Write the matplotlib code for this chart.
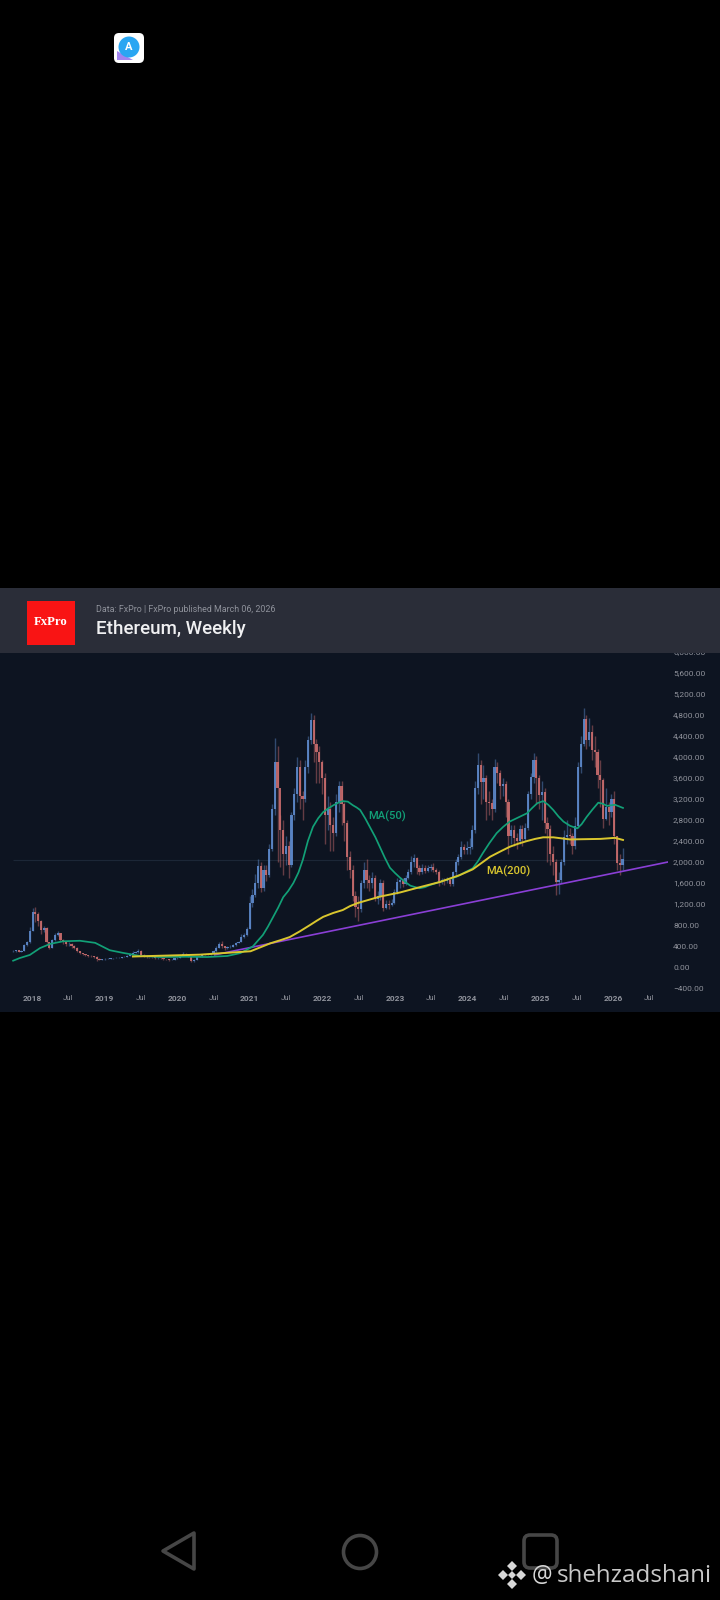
import matplotlib
matplotlib.use("Agg")
import matplotlib.pyplot as plt
from matplotlib.patches import Rectangle, FancyBboxPatch, Circle, Polygon
import numpy as np

# Fortnightly candles, first one at 2017.74. Open is the previous close.
closes = [
    300, 315, 295, 305, 410, 470, 690, 1040, 1010, 870,
    700, 740, 470, 370, 510, 610, 640, 510, 470, 430,
    430, 400, 370, 300, 260, 240, 225, 215, 205, 195,
    160, 140, 150, 155, 160, 165, 170, 175, 180, 190,
    195, 210, 240, 270, 280, 310, 230, 210, 195, 190,
    185, 175, 175, 165, 155, 150, 135, 140, 165, 180,
    215, 255, 240, 200, 110, 135, 190, 205, 225, 240,
    235, 245, 300, 370, 430, 400, 370, 380, 390, 410,
    450, 480, 570, 610, 720, 1220, 1380, 1600, 1920, 1500,
    1850, 1750, 2250, 3000, 3900, 3400, 2600, 2150, 2300, 1950,
    2900, 3300, 3800, 3250, 3200, 3800, 4320, 4700, 4250, 4100,
    3900, 3600, 2900, 3000, 2700, 2550, 3150, 3450, 3100, 2750,
    2100, 1850, 1350, 1150, 1100, 1600, 1850, 1650, 1600, 1700,
    1300, 1350, 1600, 1120, 1200, 1180, 1220, 1420, 1620, 1650,
    1580, 1700, 1800, 2000, 2080, 1880, 1810, 1880, 1830, 1880,
    1900, 1850, 1810, 1620, 1650, 1640, 1660, 1580, 1800, 2000,
    2100, 2280, 2230, 2270, 2280, 2600, 3400, 3850, 3520, 3600,
    3150, 3120, 3000, 3800, 3700, 3450, 3480, 3150, 2500, 2600,
    2450, 2400, 2620, 2430, 2650, 3300, 3620, 3950, 3600, 3280,
    3330, 2750, 2620, 2150, 2000, 1620, 1650, 2000, 2480, 2510,
    2500, 2300, 2680, 3800, 4250, 4720, 4320, 4480, 4130, 4100,
    3650, 3560, 2820, 3050, 2950, 3200, 2500, 1990, 1950, 2050,
]
highs = [
    320, 330, 320, 330, 430, 500, 760, 1130, 1150, 1040,
    900, 780, 760, 480, 530, 640, 690, 650, 530, 490,
    470, 450, 410, 380, 310, 270, 250, 235, 225, 215,
    205, 165, 160, 165, 170, 175, 180, 185, 195, 200,
    205, 220, 260, 300, 310, 340, 320, 240, 220, 200,
    200, 195, 190, 185, 170, 160, 155, 150, 175, 190,
    225, 285, 265, 250, 205, 150, 200, 215, 250, 250,
    250, 255, 320, 400, 480, 490, 400, 395, 420, 430,
    470, 500, 620, 640, 760, 1350, 1480, 1780, 2050, 2000,
    1950, 1950, 2350, 3100, 4360, 4200, 2900, 2800, 2500, 2400,
    2950, 3400, 4000, 3950, 3350, 3950, 4400, 4840, 4800, 4350,
    4200, 3950, 3700, 3250, 3150, 2850, 3300, 3550, 3550, 3150,
    2800, 2200, 1950, 1450, 1350, 1650, 2000, 2050, 1750, 1800,
    1750, 1450, 1680, 1650, 1280, 1280, 1300, 1480, 1700, 1720,
    1700, 1750, 1870, 2120, 2150, 2100, 1950, 1960, 1950, 1950,
    1970, 1980, 1880, 1850, 1700, 1700, 1720, 1700, 1820, 2050,
    2150, 2400, 2350, 2400, 2450, 2700, 3550, 4070, 3950, 3850,
    3650, 3350, 3200, 3960, 3900, 3750, 3600, 3550, 3200, 2700,
    2700, 2550, 2700, 2700, 2750, 3350, 3700, 4070, 4020, 3650,
    3550, 3400, 2850, 2700, 2300, 2050, 1800, 2050, 2600, 2800,
    2650, 2550, 2850, 3900, 4400, 4930, 4800, 4750, 4600, 4400,
    4150, 3950, 3600, 3400, 3150, 3300, 3350, 2500, 2150, 2270,
]
lows = [
    285, 290, 280, 290, 300, 400, 460, 680, 860, 780,
    620, 660, 450, 350, 360, 500, 590, 490, 440, 400,
    400, 370, 340, 280, 240, 220, 205, 195, 185, 180,
    120, 125, 135, 140, 145, 155, 160, 165, 170, 175,
    185, 190, 205, 235, 260, 270, 215, 190, 180, 175,
    170, 160, 160, 150, 140, 130, 120, 125, 135, 160,
    175, 210, 220, 190, 90, 100, 130, 185, 200, 225,
    220, 225, 235, 295, 360, 360, 320, 350, 365, 380,
    400, 450, 470, 560, 600, 720, 1150, 1330, 1500, 1420,
    1450, 1640, 1720, 2200, 2900, 2000, 1900, 1750, 1950, 1700,
    1900, 2800, 3150, 3000, 2800, 3150, 3700, 4250, 3900, 3500,
    3500, 3300, 2350, 2600, 2200, 2200, 2500, 2950, 2700, 2400,
    1850, 1700, 1250, 950, 880, 1050, 1500, 1500, 1450, 1500,
    1250, 1200, 1280, 1070, 1100, 1100, 1170, 1200, 1400, 1500,
    1520, 1570, 1680, 1780, 1900, 1780, 1760, 1780, 1790, 1800,
    1820, 1800, 1780, 1550, 1580, 1570, 1600, 1540, 1540, 1750,
    1950, 2050, 2150, 2150, 2150, 2250, 2550, 3300, 3100, 3200,
    2800, 2900, 2800, 2950, 3500, 3200, 3250, 2850, 2150, 2350,
    2300, 2250, 2350, 2300, 2400, 2600, 3200, 3500, 3100, 3000,
    2800, 2550, 2000, 1950, 1750, 1380, 1400, 1600, 1950, 2350,
    2350, 2150, 2250, 2650, 3700, 4200, 4150, 4200, 3950, 3800,
    3400, 3050, 2650, 2800, 2700, 2850, 2350, 1850, 1750, 1850,
]

ma50_years = [
    2017.74, 2017.83, 2017.97, 2018.11, 2018.25, 2018.43, 2018.66, 2018.87, 2019.07, 2019.25,
    2019.49, 2019.76, 2020.13, 2020.41, 2020.69, 2020.87, 2021.04, 2021.18, 2021.25, 2021.32,
    2021.39, 2021.46, 2021.53, 2021.60, 2021.67, 2021.73, 2021.80, 2021.87, 2021.94, 2022.01,
    2022.08, 2022.15, 2022.22, 2022.28, 2022.35, 2022.42, 2022.47, 2022.52, 2022.59, 2022.66,
    2022.73, 2022.79, 2022.86, 2022.93, 2023.00, 2023.07, 2023.14, 2023.21, 2023.28, 2023.34,
    2023.41, 2023.48, 2023.57, 2023.66, 2023.85, 2024.07, 2024.14, 2024.21, 2024.30, 2024.40,
    2024.49, 2024.58, 2024.70, 2024.82, 2024.89, 2024.96, 2025.04, 2025.11, 2025.18, 2025.25,
    2025.32, 2025.41, 2025.51, 2025.57, 2025.64, 2025.72, 2025.80, 2025.86, 2025.92, 2026.03,
    2026.14,
]
ma50_values = [
    120, 170, 230, 360, 440, 490, 500, 460, 320, 270,
    210, 190, 195, 190, 210, 265, 390, 610, 770, 950,
    1130, 1330, 1450, 1600, 1800, 2040, 2400, 2670, 2830, 2950,
    3020, 3080, 3130, 3160, 3150, 3080, 3040, 2990, 2830, 2650,
    2470, 2290, 2080, 1890, 1790, 1700, 1620, 1550, 1520, 1500,
    1520, 1560, 1600, 1640, 1720, 1880, 2010, 2170, 2360, 2550,
    2670, 2770, 2850, 2930, 3030, 3120, 3160, 3090, 2990, 2870,
    2770, 2690, 2640, 2720, 2860, 3000, 3130, 3110, 3070, 3090,
    3030,
]

ma200_years = [
    2019.39, 2020.31, 2021.01, 2021.28, 2021.42, 2021.55, 2021.69, 2021.83, 2021.92, 2022.01,
    2022.15, 2022.28, 2022.38, 2022.49, 2022.79, 2023.07, 2023.34, 2023.62, 2023.89, 2024.07,
    2024.19, 2024.31, 2024.45, 2024.58, 2024.70, 2024.82, 2024.93, 2025.04, 2025.18, 2025.41,
    2025.83, 2026.03, 2026.14,
]
ma200_values = [
    200, 235, 300, 450, 510, 570, 680, 800, 880, 955,
    1030, 1085, 1160, 1220, 1340, 1420, 1520, 1620, 1750, 1860,
    1980, 2100, 2200, 2290, 2350, 2400, 2440, 2470, 2470, 2430,
    2440, 2460, 2420,
]

trend_years = [2020.52, 2026.76]
trend_values = [233, 2000]

year_ticks = [2018, 2019, 2020, 2021, 2022, 2023, 2024, 2025, 2026]
jul_ticks = [2018.5, 2019.5, 2020.5, 2021.5, 2022.5, 2023.5, 2024.5, 2025.5, 2026.5]
price_ticks = list(range(-400, 6001, 400))

PANEL = "#0d1421"
HEADER = "#2a2d38"
UP = "#5f8ccf"
DOWN = "#cf6f6f"
GREEN = "#12a077"
YELLOW = "#d9c62e"
PURPLE = "#8a3fd6"
GREY = "#8f929b"
NAV = "#464646"

plt.rcParams["font.family"] = ["Roboto", "DejaVu Sans"]

fig = plt.figure(figsize=(7.2, 16), dpi=100, facecolor="black")

# background in pixel coordinates
bg = fig.add_axes([0, 0, 1, 1], zorder=0)
bg.set_xlim(0, 720)
bg.set_ylim(1600, 0)
bg.axis("off")
bg.add_patch(Rectangle((0, 653), 720, 359, color=PANEL, lw=0))

# app icon
bg.add_patch(FancyBboxPatch((117, 36), 24, 24, boxstyle="round,pad=3,rounding_size=5", fc="white", ec="none"))
bg.add_patch(Polygon([[117, 51], [133, 60], [117, 60]], color="#a184f0", lw=0))
bg.add_patch(Circle((129, 47), 10.5, color="#2aa6f2", lw=0))
bg.text(129, 47.5, "A", color="white", fontsize=8, fontweight="bold", ha="center", va="center")

# navigation bar
bg.add_patch(Polygon([[163, 1551], [194, 1533], [194, 1569]], fc="none", ec=NAV, lw=2.6, joinstyle="round"))
bg.add_patch(Circle((360, 1552), 16.5, fc="none", ec=NAV, lw=2.6))
bg.add_patch(FancyBboxPatch((529, 1540), 23, 23, boxstyle="round,pad=5,rounding_size=6", fc="none", ec=NAV, lw=2.6))

# watermark
for dx, dy, size in [(0, -9, 9), (-9, 0, 9), (9, 0, 9), (0, 9, 9), (0, 0, 7)]:
    bg.plot(512 + dx, 1575 + dy, marker="D", ms=size * 0.62, color="#d8d8d8", mew=0)
bg.text(532, 1576, "@", color="#d8d8d8", fontsize=16.5, ha="left", va="center", family=["Open Sans", "DejaVu Sans"])
bg.text(557, 1576, "shehzadshani", color="#c8c8c8", fontsize=17.4, ha="left", va="center", family=["Open Sans", "DejaVu Sans"])

# chart
ax = fig.add_axes([0, 1 - 990 / 1600, 668 / 720, 342 / 1600], zorder=1)
ax.patch.set_visible(False)
ax.set_xlim(2017.559, 2026.76)
ax.set_ylim(-438, 6076)
for side in ax.spines.values():
    side.set_visible(False)

ax.hlines(2030, 2017.74, 2026.6, color="#1c2737", lw=0.8, zorder=1)

years = 2017.74 + np.arange(len(closes)) * 14 / 365.25
opens = [closes[0]] + closes[:-1]
colors = [UP if c >= o else DOWN for o, c in zip(opens, closes)]
ax.vlines(years, lows, highs, colors=colors, lw=1.0, alpha=0.45, zorder=2)
ax.bar(years, np.array(closes) - np.array(opens), bottom=opens, width=11 / 365.25, color=colors, lw=0, alpha=0.88, zorder=3)

ax.plot(ma50_years, ma50_values, color=GREEN, lw=1.25, solid_joinstyle="round", zorder=5)
ax.plot(trend_years, trend_values, color=PURPLE, lw=1.2, zorder=4)
ax.plot(ma200_years, ma200_values, color=YELLOW, lw=1.4, solid_joinstyle="round", zorder=6)
ax.text(2022.63, 2876, "MA(50)", color=GREEN, fontsize=8, fontweight="medium", ha="left", va="center")
ax.text(2024.25, 1829, "MA(200)", color=YELLOW, fontsize=8, fontweight="medium", ha="left", va="center")

ax.yaxis.tick_right()
ax.set_yticks(price_ticks)
ax.set_yticklabels([f"{v:,.2f}".replace("-", "\u2212") for v in price_ticks])
ax.tick_params(axis="y", length=0, pad=3.6, labelsize=6, labelcolor=GREY)

ax.set_xticks(year_ticks + jul_ticks)
ax.set_xticklabels([str(y) for y in year_ticks] + ["Jul"] * len(jul_ticks))
ax.tick_params(axis="x", length=0, pad=3.6, labelsize=5.6, labelcolor=GREY)
for label in ax.get_xticklabels()[:len(year_ticks)]:
    label.set_fontweight("bold")
    label.set_fontsize(6)

# header sits over the top tick label
ui = fig.add_axes([0, 0, 1, 1], zorder=2)
ui.set_xlim(0, 720)
ui.set_ylim(1600, 0)
ui.axis("off")
ui.patch.set_visible(False)
ui.add_patch(Rectangle((0, 588), 720, 65, color=HEADER, lw=0))
ui.add_patch(Rectangle((27, 601), 48, 44, color="#f91414", lw=0))
ui.text(51, 622, "FxPro", color="white", fontsize=9.2, fontweight="bold", ha="center", va="center", family="Liberation Serif")
ui.text(96, 610, "Data: FxPro | FxPro published March 06, 2026", color="#8f929b", fontsize=6.4, ha="left", va="center")
ui.text(96, 628.5, "Ethereum, Weekly", color="#f0f0f2", fontsize=13.5, fontweight="medium", ha="left", va="center")

fig.savefig("out.png", dpi=100, facecolor=fig.get_facecolor())
